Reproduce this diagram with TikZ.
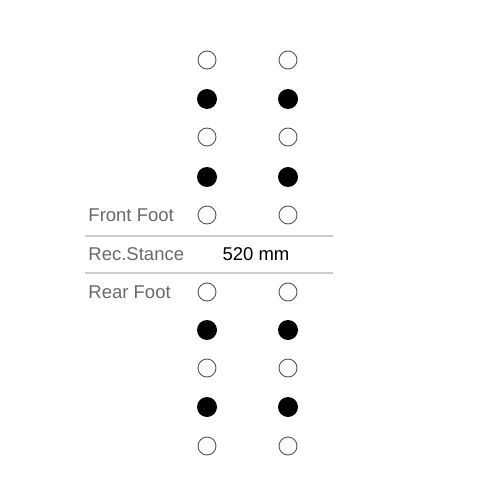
\documentclass[tikz,border=0pt]{standalone}
\usepackage{fontspec}
\setmainfont{Liberation Sans}
\usepackage{xcolor}
\usepackage{tikz}
\definecolor{holegray}{RGB}{85,85,85}
\definecolor{rulegray}{RGB}{205,205,205}
\definecolor{labelgray}{RGB}{105,105,105}
\tikzset{
  hole/.style={circle,draw=holegray,line width=0.9pt,minimum size=18pt,inner sep=0pt},
  insert/.style={circle,fill=black,minimum size=20pt,inner sep=0pt},
  lbl/.style={anchor=west,inner sep=0.75pt,text=labelgray,font=\fontsize{18.5}{21}\selectfont},
}

\begin{document}
\begin{tikzpicture}[x=1pt,y=1pt,yscale=-1,xscale=1]
\useasboundingbox (0,0) rectangle (500,500);

%Shape: Front holes, left column
\node [hole] (fl1) at (207,60) {};
\node [insert] (fl2) at (207,99) {};
\node [hole] (fl3) at (207,137) {};
\node [insert] (fl4) at (207,177) {};
\node [hole] (fl5) at (207,215) {};
%Shape: Front holes, right column
\node [hole] (fr1) at (288,60) {};
\node [insert] (fr2) at (288,99) {};
\node [hole] (fr3) at (288,137) {};
\node [insert] (fr4) at (288,177) {};
\node [hole] (fr5) at (288,215) {};

%Shape: Rear holes, left column
\node [hole] (rl1) at (207,292) {};
\node [insert] (rl2) at (207,330) {};
\node [hole] (rl3) at (207,368) {};
\node [insert] (rl4) at (207,407) {};
\node [hole] (rl5) at (207,446) {};
%Shape: Rear holes, right column
\node [hole] (rr1) at (288,292) {};
\node [insert] (rr2) at (288,330) {};
\node [hole] (rr3) at (288,368) {};
\node [insert] (rr4) at (288,407) {};
\node [hole] (rr5) at (288,446) {};

%Straight Lines
\coordinate (ruleAl) at (85,236);
\coordinate (ruleAr) at (333,236);
\coordinate (ruleBl) at (85,273);
\coordinate (ruleBr) at (333,273);
\draw [rulegray,line width=1.6pt] (ruleAl) -- (ruleAr) ;
\draw [rulegray,line width=1.6pt] (ruleBl) -- (ruleBr) ;

% Text Node
\node [lbl] (front) at (87.5,215.5) {Front Foot};
% Text Node
\node [lbl] (stance) at (87.5,254.5) {Rec.Stance};
% Text Node
\node [lbl,anchor=center,text=black] (width) at (256,254.5) {520 mm};
% Text Node
\node [lbl] (rear) at (87.5,292.5) {Rear Foot};

\end{tikzpicture}
\end{document}
